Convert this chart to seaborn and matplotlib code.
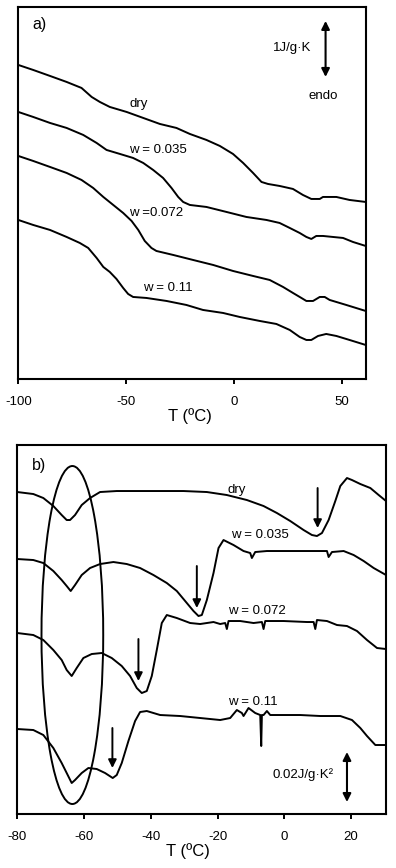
import numpy as np
import pandas as pd
import seaborn as sns
import matplotlib.pyplot as plt
from matplotlib.patches import Ellipse

# ---- panel a) heat capacity traces (arbitrary vertical offsets) ----
a_dry_T = [-100, -93.1, -85.3, -77.6, -70.7, -66.0, -62.2, -57.6, -49.8, -42.1, -34.4, -26.7, -20.5, -12.8,
           -6.6, -0.5, 4.2, 8.8, 12.7, 15.7, 21.1, 27.3, 31.9, 35.8, 39.7, 41.2, 47.4, 53.5, 61]
a_dry_cp = [314, 309, 303, 297, 291, 282, 277, 272, 267, 261, 255, 251, 245, 239,
            233, 225, 216, 206, 197, 195, 193, 190, 184, 180, 180, 182, 182, 179, 177]

a_035_T = [-100, -93.1, -85.3, -77.6, -69.9, -63.7, -59.1, -52.9, -46.8, -42.1, -37.5, -32.9, -29.0, -25.9,
           -23.6, -20.5, -12.8, -3.5, 5.7, 15.0, 21.1, 25.8, 30.4, 33.5, 35.8, 38.1, 41.2, 45.8, 50.5, 55.1, 61]
a_035_cp = [267, 262, 256, 251, 244, 236, 229, 225, 221, 216, 209, 201, 191, 182,
            177, 174, 172, 167, 162, 159, 156, 151, 146, 142, 140, 143, 143, 142, 141, 137, 133]

a_072_T = [-100, -93.1, -85.3, -77.6, -70.7, -65.3, -60.6, -56.0, -51.4, -47.5, -44.4, -41.4, -38.3, -36.0,
           -28.2, -19.0, -9.7, -0.5, 8.8, 16.5, 22.7, 27.3, 31.2, 33.5, 36.6, 39.7, 42.0, 44.3, 52.0, 61]
a_072_cp = [223, 218, 212, 206, 199, 191, 182, 174, 166, 158, 149, 138, 131, 128,
            124, 119, 114, 108, 103, 99, 92, 86, 81, 78, 78, 82, 82, 79, 74, 68]

a_11_T = [-100, -93.1, -85.3, -77.6, -71.5, -67.6, -63.7, -60.6, -57.6, -54.5, -51.4, -49.1, -46.8, -40.6,
          -31.3, -22.1, -14.4, -5.1, 2.6, 11.9, 19.6, 25.8, 30.4, 33.5, 35.8, 38.9, 42.7, 47.4, 53.5, 61]
a_11_cp = [159, 154, 149, 142, 136, 131, 121, 112, 107, 100, 91, 85, 82, 81,
           78, 74, 69, 66, 62, 58, 55, 49, 42, 39, 39, 43, 45, 43, 39, 34]

# ---- panel b) derivative traces ----
b_dry_T = [-80, -75.2, -72.2, -69.2, -66.7, -65.2, -64.2, -62.7, -60.7, -58.2, -55.2, -50.2, -40.2, -30.2,
           -23.2, -17.2, -11.2, -6.2, -2.2, 1.8, 5.8, 8.3, 9.8, 11.3, 13.3, 15.3, 16.8, 18.8, 20.3, 22.8,
           25.8, 28.3, 30.5]
b_dry_d = [322, 320, 316, 308, 299, 294, 294, 299, 309, 316, 322, 323, 323, 323,
           322, 319, 314, 308, 301, 293, 284, 279, 278, 281, 294, 313, 328, 336, 334, 330,
           326, 319, 313]

b_035_T = [-80, -75.2, -72.2, -69.2, -66.7, -65.2, -64.0, -62.7, -60.7, -58.2, -55.2, -51.2, -47.2, -43.2,
           -39.2, -35.2, -32.2, -29.2, -27.2, -25.7, -24.7, -23.2, -21.2, -19.7, -18.2, -15.2, -12.2, -10.2,
           -9.7, -8.7, -5.2, 4.8, 12.8, 13.3, 14.3, 17.8, 20.8, 23.8, 26.8, 30.5]
b_035_d = [255, 254, 251, 243, 234, 228, 223, 229, 239, 246, 250, 252, 250, 246,
           239, 231, 223, 211, 203, 198, 199, 214, 241, 266, 274, 269, 263, 261,
           256, 262, 263, 263, 263, 257, 262, 263, 259, 253, 246, 239]

b_072_T = [-80, -75.2, -72.2, -69.2, -66.7, -65.2, -63.7, -62.2, -60.2, -57.7, -54.7, -51.7, -48.7, -46.2,
           -44.2, -42.7, -41.2, -39.7, -38.2, -36.7, -35.2, -32.2, -28.2, -25.2, -21.2, -19.2, -17.7, -17.2,
           -16.7, -13.2, -9.2, -6.7, -6.2, -5.7, -0.2, 6.8, 8.8, 9.3, 9.8, 12.8, 15.8, 18.8, 21.8, 24.8,
           27.8, 30.5]
b_072_d = [181, 179, 174, 164, 154, 144, 138, 146, 156, 160, 161, 156, 148, 138,
           126, 121, 123, 138, 164, 191, 199, 196, 191, 190, 192, 190, 191, 185,
           193, 193, 191, 192, 185, 193, 193, 192, 192, 185, 194, 193, 189, 188, 183, 174,
           166, 165]

b_11_T = [-80, -75.2, -72.2, -69.2, -66.7, -65.2, -63.7, -62.7, -60.7, -58.7, -56.2, -53.7, -51.4, -50.2,
          -48.7, -46.7, -44.7, -43.2, -41.2, -37.2, -31.2, -25.2, -19.2, -16.2, -14.2, -12.7, -12.2, -10.7,
          -8.7, -7.2, -6.9, -6.7, -6.2, -5.2, -4.2, 4.8, 10.8, 16.8, 20.3, 22.8, 24.8, 27.3, 30.5]
b_11_d = [85, 84, 79, 66, 51, 41, 31, 34, 41, 46, 45, 41, 36, 39,
          51, 73, 93, 102, 103, 99, 98, 96, 94, 96, 104, 101, 98, 106,
          101, 99, 68, 99, 99, 103, 99, 99, 98, 98, 94, 86, 78, 69, 69]

a_series = [(a_dry_T, a_dry_cp), (a_035_T, a_035_cp), (a_072_T, a_072_cp), (a_11_T, a_11_cp)]
b_series = [(b_dry_T, b_dry_d), (b_035_T, b_035_d), (b_072_T, b_072_d), (b_11_T, b_11_d)]

a_labels = ["dry", "w = 0.035", "w =0.072", "w = 0.11"]
a_label_pos = [(-48.6, 275), (-48.6, 229), (-48.6, 166), (-42.4, 91)]
b_labels = ["dry", "w = 0.035", "w = 0.072", "w = 0.11"]
b_label_pos = [(-16.9, 324), (-15.9, 279), (-16.9, 203), (-16.9, 112)]

# arrows marking the main transition in b): (T, y start, y tip)
b_arrows = [(10.0, 326, 286), (-26.2, 248, 206), (-43.7, 175, 133), (-51.5, 86, 46)]

sns.set_style("white")
plt.rcParams['font.family'] = ['Liberation Sans', 'DejaVu Sans']
plt.rcParams['axes.unicode_minus'] = False
plt.rcParams['text.color'] = 'k'
plt.rcParams['xtick.color'] = 'k'
plt.rcParams['axes.labelcolor'] = 'k'

fig = plt.figure(figsize=(3.96, 8.68), dpi=100)
ax1 = fig.add_axes([0.0462, 0.5634, 0.8773, 0.4286])
ax2 = fig.add_axes([0.0437, 0.0622, 0.9311, 0.4251])

for T, y in a_series:
    sns.lineplot(x=T, y=y, ax=ax1, color='k', lw=1.4, estimator=None)
for T, y in b_series:
    sns.lineplot(x=T, y=y, ax=ax2, color='k', lw=1.4, estimator=None)

for lab, (x, y) in zip(a_labels, a_label_pos):
    ax1.text(x, y, lab, fontsize=9.5, ha='left', va='center')
for lab, (x, y) in zip(b_labels, b_label_pos):
    ax2.text(x, y, lab, fontsize=9.5, ha='left', va='center')

ax1.text(-93.7, 354, "a)", fontsize=11.5, ha='left', va='center')
ax2.text(-75.7, 349, "b)", fontsize=11.5, ha='left', va='center')

# scale bars
ax1.annotate('', xy=(42.4, 302), xytext=(42.4, 358),
             arrowprops=dict(arrowstyle='<|-|>', color='k', lw=1.5, mutation_scale=12, shrinkA=0, shrinkB=0))
ax1.text(35.8, 331, "1J/g·K", fontsize=9.5, ha='right', va='center')
ax1.text(41.2, 283, "endo", fontsize=9.5, ha='center', va='center')

ax2.annotate('', xy=(18.8, 12), xytext=(18.8, 62),
             arrowprops=dict(arrowstyle='<|-|>', color='k', lw=1.5, mutation_scale=12, shrinkA=0, shrinkB=0))
ax2.text(14.8, 39, "0.02J/g·K²", fontsize=9.5, ha='right', va='center')

for x, y0, y1 in b_arrows:
    ax2.annotate('', xy=(x, y1), xytext=(x, y0),
                 arrowprops=dict(arrowstyle='-|>', color='k', lw=1.4, mutation_scale=12, shrinkA=0, shrinkB=0))

ax2.add_patch(Ellipse((-63.5, 179), width=18.5, height=338, fill=False, ec='k', lw=1.4))

ax1.set_xlim(-100, 61)
ax1.set_ylim(0, 372)
ax1.set_xticks([-100, -50, 0, 50])
ax2.set_xlim(-80, 30.5)
ax2.set_ylim(0, 369)
ax2.set_xticks([-80, -60, -40, -20, 0, 20])

for ax, lx in [(ax1, 0.494), (ax2, 0.463)]:
    ax.set_yticks([])
    ax.set_ylabel('')
    ax.set_xlabel("T (ºC)", fontsize=12)
    ax.xaxis.set_label_coords(lx, -0.078)
    ax.tick_params(axis='x', direction='out', length=3.5, width=1.4, pad=9, labelsize=9.5,
                   bottom=True, colors='k')
    for s in ax.spines.values():
        s.set_linewidth(1.5)
        s.set_color('k')

plt.savefig('out.png', dpi=100)
